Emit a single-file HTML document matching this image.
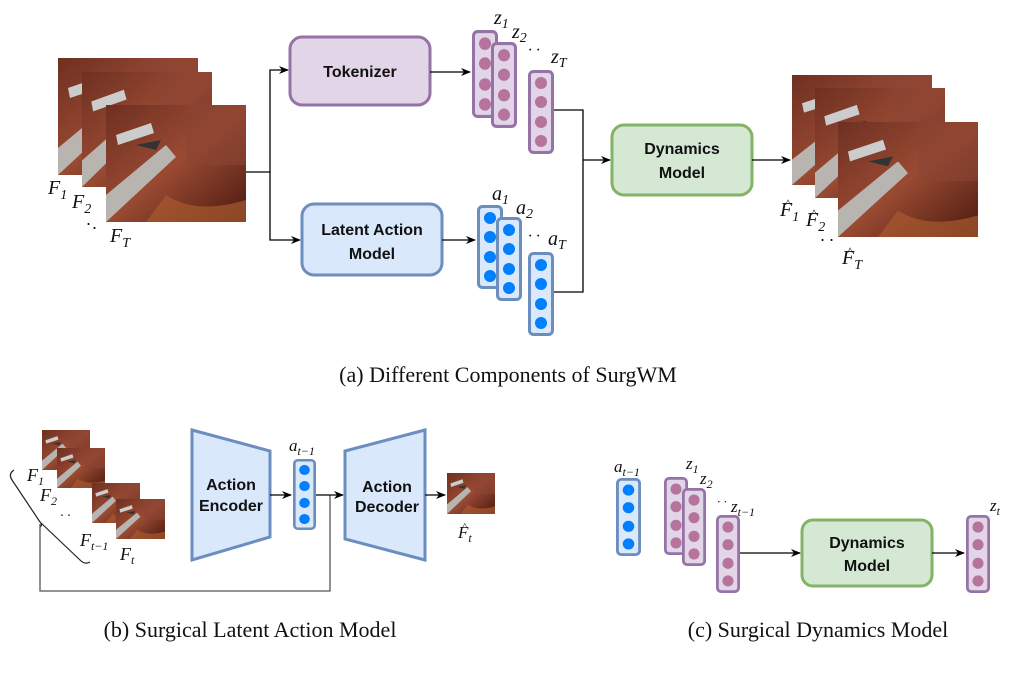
<!DOCTYPE html>
<html><head><meta charset="utf-8"><style>
body{margin:0;background:#fff;}
svg{display:block}
.sans{font-family:"Liberation Sans",sans-serif;font-weight:bold;font-size:16px;fill:#111}
.m{font-family:"Liberation Serif",serif;font-style:italic;fill:#111}
.cap{font-family:"Liberation Serif",serif;font-size:22px;fill:#111}
</style></head><body>
<svg width="1016" height="674" viewBox="0 0 1016 674" xmlns="http://www.w3.org/2000/svg">
<defs>
<marker id="ar" markerWidth="10" markerHeight="8" refX="9" refY="4" orient="auto" markerUnits="userSpaceOnUse"><path d="M0,0 L10,4 L0,8 L3,4 z" fill="#000"/></marker>
<linearGradient id="tg" x1="0" y1="0" x2="1" y2="1"><stop offset="0" stop-color="#6e3022"/><stop offset="0.5" stop-color="#9a4a32"/><stop offset="1" stop-color="#4a1a10"/></linearGradient>
<symbol id="img" viewBox="0 0 140 117" preserveAspectRatio="none">
<rect width="140" height="117" fill="url(#tg)"/>
<rect x="80" y="0" width="60" height="60" fill="#8a4434" opacity="0.6"/>
<path d="M0,90 L60,40 L70,52 L0,117z" fill="#b8b4b0"/>
<path d="M10,30 L45,18 L48,28 L12,40z" fill="#ccc"/>
<path d="M30,40 L55,35 L50,45z" fill="#333"/>
<path d="M60,90 Q90,110 140,95 L140,117 L40,117z" fill="#a85a2e" opacity="0.7"/>
</symbol>
<symbol id="vp" viewBox="0 0 26 84" preserveAspectRatio="none">
<rect x="1.5" y="1.5" width="23" height="81" rx="4" fill="#e1d5e7" stroke="#9673a6" stroke-width="3"/>
<circle cx="13" cy="13" r="6" fill="#b5739d"/><circle cx="13" cy="32" r="6" fill="#b5739d"/><circle cx="13" cy="52" r="6" fill="#b5739d"/><circle cx="13" cy="71" r="6" fill="#b5739d"/>
</symbol>
<symbol id="vb" viewBox="0 0 26 84" preserveAspectRatio="none">
<rect x="1.5" y="1.5" width="23" height="81" rx="4" fill="#dae8fc" stroke="#6c8ebf" stroke-width="3"/>
<circle cx="13" cy="13" r="6" fill="#007fff"/><circle cx="13" cy="32" r="6" fill="#007fff"/><circle cx="13" cy="52" r="6" fill="#007fff"/><circle cx="13" cy="71" r="6" fill="#007fff"/>
</symbol>
</defs>

<use href="#img" x="58" y="58" width="140" height="117"/>
<use href="#img" x="82" y="72" width="130" height="115"/>
<use href="#img" x="106" y="105" width="140" height="117"/>
<text class="m" x="48" y="194" font-size="20">F<tspan font-size="14" dy="5">1</tspan></text>
<text class="m" x="72" y="208" font-size="20">F<tspan font-size="14" dy="5">2</tspan></text>
<text class="m" x="86" y="230" font-size="18">·</text><text class="m" x="92" y="234" font-size="18">·</text>
<text class="m" x="110" y="242" font-size="20">F<tspan font-size="14" dy="5">T</tspan></text>

<path d="M246,172 H270 V70 H288" fill="none" stroke="#000" stroke-width="1.3" marker-end="url(#ar)"/>
<path d="M270,172 V240 H300" fill="none" stroke="#000" stroke-width="1.3" marker-end="url(#ar)"/>
<rect x="290" y="37" width="140" height="68" rx="12" fill="#e1d5e7" stroke="#9673a6" stroke-width="3"/>
<text class="sans" x="360" y="77" text-anchor="middle">Tokenizer</text>
<rect x="302" y="204" width="140" height="71" rx="12" fill="#dae8fc" stroke="#6c8ebf" stroke-width="3"/>
<text class="sans" x="372" y="235" text-anchor="middle">Latent Action</text>
<text class="sans" x="372" y="259" text-anchor="middle">Model</text>
<path d="M430,72 H470" stroke="#000" stroke-width="1.3" marker-end="url(#ar)"/>
<path d="M442,240 H475" stroke="#000" stroke-width="1.3" marker-end="url(#ar)"/>

<use href="#vp" x="472" y="30" width="26" height="88"/>
<use href="#vp" x="491" y="42" width="26" height="86"/>
<use href="#vp" x="528" y="70" width="26" height="84"/>
<text class="m" x="494" y="24" font-size="20">z<tspan font-size="14" dy="4">1</tspan></text>
<text class="m" x="512" y="38" font-size="20">z<tspan font-size="14" dy="4">2</tspan></text>
<text class="m" x="528" y="55" font-size="16">· ·</text>
<text class="m" x="551" y="63" font-size="20">z<tspan font-size="14" dy="4">T</tspan></text>

<use href="#vb" x="477" y="205" width="26" height="84"/>
<use href="#vb" x="496" y="217" width="26" height="84"/>
<use href="#vb" x="528" y="252" width="26" height="84"/>
<text class="m" x="492" y="200" font-size="20">a<tspan font-size="14" dy="4">1</tspan></text>
<text class="m" x="516" y="214" font-size="20">a<tspan font-size="14" dy="4">2</tspan></text>
<text class="m" x="528" y="241" font-size="16">· ·</text>
<text class="m" x="548" y="245" font-size="20">a<tspan font-size="14" dy="4">T</tspan></text>

<path d="M554,110 H583 V292 H554" fill="none" stroke="#000" stroke-width="1.3"/>
<path d="M583,160 H610" stroke="#000" stroke-width="1.3" marker-end="url(#ar)"/>
<rect x="612" y="125" width="140" height="70" rx="12" fill="#d5e8d4" stroke="#82b366" stroke-width="3"/>
<text class="sans" x="682" y="154" text-anchor="middle">Dynamics</text>
<text class="sans" x="682" y="178" text-anchor="middle">Model</text>
<path d="M752,160 H790" stroke="#000" stroke-width="1.3" marker-end="url(#ar)"/>

<use href="#img" x="792" y="75" width="140" height="110"/>
<use href="#img" x="815" y="88" width="130" height="110"/>
<use href="#img" x="838" y="122" width="140" height="115"/>
<text class="m" x="780" y="216" font-size="20">F<tspan font-size="14" dy="5">1</tspan></text>
<text class="m" x="785" y="207" font-size="12">^</text>
<text class="m" x="806" y="226" font-size="20">F<tspan font-size="14" dy="5">2</tspan></text>
<text class="m" x="811" y="217" font-size="12">^</text>
<text class="m" x="820" y="246" font-size="18">· ·</text>
<text class="m" x="842" y="264" font-size="20">F<tspan font-size="14" dy="5">T</tspan></text>
<text class="m" x="847" y="255" font-size="12">^</text>

<text class="cap" x="508" y="382" text-anchor="middle">(a) Different Components of SurgWM</text>

<use href="#img" x="42" y="430" width="48" height="40"/>
<use href="#img" x="57" y="448" width="48" height="40"/>
<use href="#img" x="92" y="483" width="48" height="40"/>
<use href="#img" x="116" y="499" width="49" height="40"/>
<text class="m" x="27" y="481" font-size="18">F<tspan font-size="12" dy="4">1</tspan></text>
<text class="m" x="40" y="501" font-size="18">F<tspan font-size="12" dy="4">2</tspan></text>
<text class="m" x="60" y="520" font-size="14">· ·</text>
<text class="m" x="80" y="546" font-size="18">F<tspan font-size="12" dy="4">t−1</tspan></text>
<text class="m" x="120" y="560" font-size="18">F<tspan font-size="12" dy="4">t</tspan></text>
<path d="M14,470 Q8,474 12,480 L40,522 Q43,525 40,527 M40,522 L80,560 Q85,565 90,562" fill="none" stroke="#222" stroke-width="1.2"/>
<path d="M40,524 V591 H330 V495" fill="none" stroke="#555" stroke-width="1.3"/>

<polygon points="192,430 270,451 270,537 192,560" fill="#dae8fc" stroke="#6c8ebf" stroke-width="3"/>
<text class="sans" x="231" y="490" text-anchor="middle" font-size="15">Action</text>
<text class="sans" x="231" y="511" text-anchor="middle" font-size="15">Encoder</text>
<path d="M270,495 H291" stroke="#000" stroke-width="1.3" marker-end="url(#ar)"/>
<use href="#vb" x="293" y="459" width="23" height="71"/>
<text class="m" x="289" y="451" font-size="17">a<tspan font-size="12" dy="4">t−1</tspan></text>
<path d="M316,495 H343" stroke="#000" stroke-width="1.3" marker-end="url(#ar)"/>
<polygon points="345,451 425,430 425,560 345,539" fill="#dae8fc" stroke="#6c8ebf" stroke-width="3"/>
<text class="sans" x="387" y="492" text-anchor="middle" font-size="15">Action</text>
<text class="sans" x="387" y="512" text-anchor="middle" font-size="15">Decoder</text>
<path d="M425,495 H445" stroke="#000" stroke-width="1.3" marker-end="url(#ar)"/>
<use href="#img" x="447" y="473" width="48" height="41"/>
<text class="m" x="458" y="538" font-size="17">F<tspan font-size="12" dy="4">t</tspan></text>
<text class="m" x="462" y="530" font-size="11">^</text>

<text class="cap" x="250" y="637" text-anchor="middle">(b) Surgical Latent Action Model</text>

<text class="m" x="614" y="472" font-size="17">a<tspan font-size="12" dy="4">t−1</tspan></text>
<use href="#vb" x="616" y="478" width="25" height="78"/>
<use href="#vp" x="664" y="477" width="24" height="78"/>
<use href="#vp" x="682" y="488" width="24" height="78"/>
<use href="#vp" x="716" y="515" width="24" height="78"/>
<text class="m" x="686" y="469" font-size="17">z<tspan font-size="12" dy="4">1</tspan></text>
<text class="m" x="700" y="484" font-size="17">z<tspan font-size="12" dy="4">2</tspan></text>
<text class="m" x="717" y="506" font-size="13">· ·</text>
<text class="m" x="731" y="512" font-size="17">z<tspan font-size="12" dy="4">t−1</tspan></text>
<path d="M740,553 H800" stroke="#000" stroke-width="1.3" marker-end="url(#ar)"/>
<rect x="802" y="520" width="130" height="66" rx="11" fill="#d5e8d4" stroke="#82b366" stroke-width="3"/>
<text class="sans" x="867" y="548" text-anchor="middle" font-size="15">Dynamics</text>
<text class="sans" x="867" y="571" text-anchor="middle" font-size="15">Model</text>
<path d="M932,553 H964" stroke="#000" stroke-width="1.3" marker-end="url(#ar)"/>
<use href="#vp" x="966" y="515" width="24" height="78"/>
<text class="m" x="990" y="511" font-size="17">z<tspan font-size="12" dy="4">t</tspan></text>

<text class="cap" x="818" y="637" text-anchor="middle">(c) Surgical Dynamics Model</text>
</svg>
</body></html>
